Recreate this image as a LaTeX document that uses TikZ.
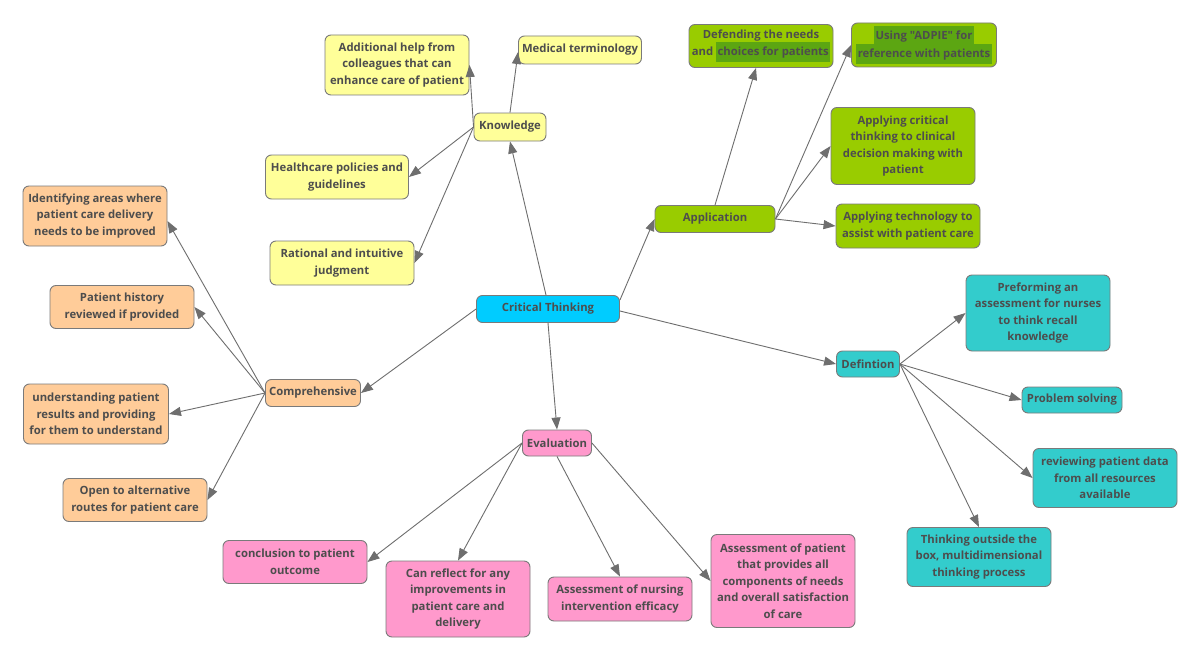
\documentclass[tikz,border=0pt]{standalone}
\usepackage{fontspec}
\usetikzlibrary{arrows.meta}
\newfontfamily\nf{Open Sans}
\definecolor{txt}{HTML}{4D4D4D}
\definecolor{bordergray}{HTML}{7A7A7A}
\definecolor{arrgray}{HTML}{6E6E6E}
\definecolor{yellowc}{HTML}{FFFF99}
\definecolor{cyanc}{HTML}{00CCFF}
\definecolor{greenc}{HTML}{99CC00}
\definecolor{tealc}{HTML}{33CCCC}
\definecolor{orangec}{HTML}{FFCC99}
\definecolor{pinkc}{HTML}{FF99CC}
\definecolor{hlgreen}{HTML}{5CA612}
\newcommand{\hlg}[1]{{\setlength{\fboxsep}{1.5pt}\colorbox{hlgreen}{\strut #1}}}
\begin{document}
\begin{tikzpicture}[x=1pt,y=-1pt,
  box/.style={draw=bordergray, line width=0.9pt, rounded corners=6pt, align=center,
    font=\nf\bfseries\fontsize{11.3}{16.5}\selectfont, text=txt, inner sep=2pt},
  arr/.style={draw=arrgray, line width=0.9pt, -{Triangle[length=12pt,width=9pt]}}]
\fill[white] (0,0) rectangle (1200,661);
\useasboundingbox (0,0) rectangle (1200,661);

% centre
\node[box, fill=cyanc, minimum width=143pt, minimum height=27pt] (ct) at (548,309) {Critical Thinking};

% knowledge branch
\node[box, fill=yellowc, minimum width=72pt, minimum height=28pt] (know) at (510,127) {Knowledge};
\node[box, fill=yellowc, minimum width=123pt, minimum height=28pt] (med) at (580,50) {Medical terminology};
\node[box, fill=yellowc, minimum width=144pt, minimum height=60pt] (add) at (397,65) {Additional help from\\colleagues that can\\enhance care of patient};
\node[box, fill=yellowc, minimum width=143pt, minimum height=44pt] (health) at (337,177) {Healthcare policies and\\guidelines};
\node[box, fill=yellowc, minimum width=144pt, minimum height=44pt] (rat) at (342,263) {Rational and intuitive\\judgment};

% application branch
\node[box, fill=greenc, minimum width=120pt, minimum height=27pt] (app) at (715,219) {Application};
\node[box, fill=greenc, minimum width=144pt, minimum height=43pt] (defend) at (761,46) {Defending the needs\\and \hlg{choices for patients}};
\node[box, fill=greenc, minimum width=145pt, minimum height=44pt] (using) at (924,45) {\hlg{Using {\char"22}ADPIE{\char"22} for}\\[-3pt]\hlg{reference with patients}};
\node[box, fill=greenc, minimum width=144pt, minimum height=77pt] (acrit) at (903,146) {Applying critical\\thinking to clinical\\decision making with\\patient};
\node[box, fill=greenc, minimum width=144pt, minimum height=44pt] (atech) at (908,226) {Applying technology to\\assist with patient care};

% definition branch
\node[box, fill=tealc, minimum width=63pt, minimum height=26pt] (def) at (868,364) {Defintion};
\node[box, fill=tealc, minimum width=144pt, minimum height=76pt] (pref) at (1038,313) {Preforming an\\assessment for nurses\\to think recall\\knowledge};
\node[box, fill=tealc, minimum width=100pt, minimum height=26pt] (prob) at (1072,400) {Problem solving};
\node[box, fill=tealc, minimum width=144pt, minimum height=59pt] (rev) at (1105,478) {reviewing patient data\\from all resources\\available};
\node[box, fill=tealc, minimum width=144pt, minimum height=59pt] (think) at (979,557) {Thinking outside the\\box, multidimensional\\thinking process};

% comprehensive branch
\node[box, fill=orangec, minimum width=95pt, minimum height=27pt] (comp) at (313,393) {Comprehensive};
\node[box, fill=orangec, minimum width=144pt, minimum height=60pt] (ident) at (95,216) {Identifying areas where\\patient care delivery\\needs to be improved};
\node[box, fill=orangec, minimum width=144pt, minimum height=43pt] (hist) at (122,307) {Patient history\\reviewed if provided};
\node[box, fill=orangec, minimum width=145pt, minimum height=60pt] (under) at (96,414) {understanding patient\\results and providing\\for them to understand};
\node[box, fill=orangec, minimum width=144pt, minimum height=43pt] (open) at (135,500) {Open to alternative\\routes for patient care};

% evaluation branch
\node[box, fill=pinkc, minimum width=69pt, minimum height=26pt] (eval) at (557,443) {Evaluation};
\node[box, fill=pinkc, minimum width=144pt, minimum height=43pt] (concl) at (295,562) {conclusion to patient\\outcome};
\node[box, fill=pinkc, minimum width=144pt, minimum height=76pt] (refl) at (458,599) {Can reflect for any\\improvements in\\patient care and\\delivery};
\node[box, fill=pinkc, minimum width=144pt, minimum height=44pt] (nurs) at (620,599) {Assessment of nursing\\intervention efficacy};
\node[box, fill=pinkc, minimum width=144pt, minimum height=93pt] (asp) at (783,581) {Assessment of patient\\that provides all\\components of needs\\and overall satisfaction\\of care};

% connectors from centre
\draw[arr] ([xshift=-2pt]ct.north) -- (know.south);
\draw[arr] ([yshift=9pt]ct.east) -- (app.west);
\draw[arr] ([yshift=-2pt]ct.east) -- (def.west);
\draw[arr] (ct.south) -- (eval.north);
\draw[arr] (ct.west) -- (comp.east);

% knowledge
\draw[arr] (know.north) -- ([yshift=-2pt]med.west);
\draw[arr] (know.west) -- (add.east);
\draw[arr] (know.west) -- (health.east);
\draw[arr] (know.west) -- (rat.east);

% application
\draw[arr] (app.north) -- ([xshift=-5pt]defend.south);
\draw[arr] (app.east) -- (using.west);
\draw[arr] (app.east) -- (acrit.west);
\draw[arr] (app.east) -- (atech.west);

% definition
\draw[arr] (def.east) -- (pref.west);
\draw[arr] (def.east) -- (prob.west);
\draw[arr] (def.east) -- (rev.west);
\draw[arr] (def.east) -- (think.north);

% comprehensive
\draw[arr] (comp.west) -- ([yshift=-5pt]ident.east);
\draw[arr] (comp.west) -- (hist.east);
\draw[arr] (comp.west) -- (under.east);
\draw[arr] (comp.west) -- (open.east);

% evaluation
\draw[arr] (eval.west) -- (concl.east);
\draw[arr] (eval.west) -- (refl.north);
\draw[arr] (eval.south) -- (nurs.north);
\draw[arr] (eval.east) -- (asp.west);
\end{tikzpicture}
\end{document}
